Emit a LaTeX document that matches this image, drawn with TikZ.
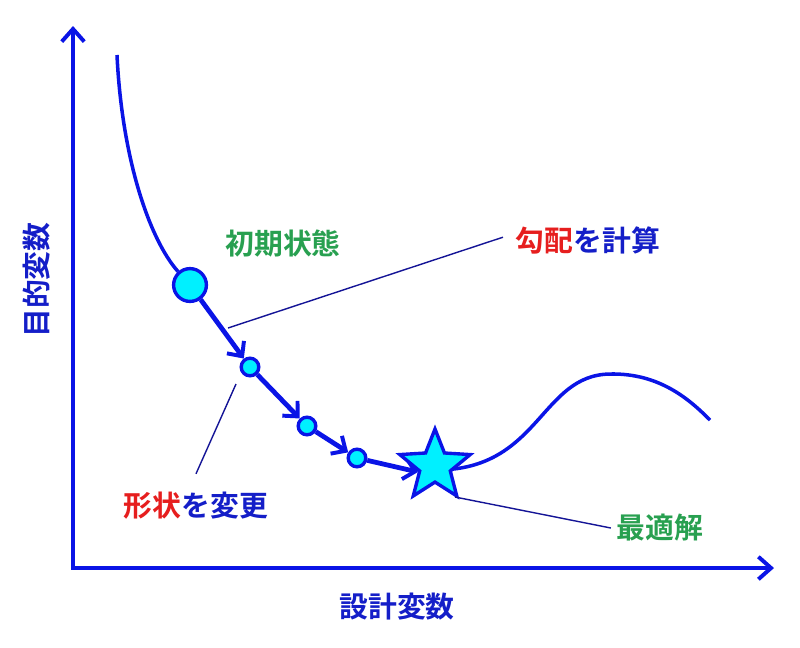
\documentclass[tikz,border=0pt]{standalone}
\usepackage{fontspec}
\newfontfamily\cjk{Noto Sans CJK JP}[BoldFont={Noto Sans CJK JP Bold}]
\usetikzlibrary{shapes.geometric, arrows.meta}
\definecolor{lineblue}{RGB}{10,20,230}
\definecolor{textblue}{RGB}{20,30,200}
\definecolor{textred}{RGB}{230,30,30}
\definecolor{textgreen}{RGB}{40,160,80}
\definecolor{dotfill}{RGB}{0,240,255}
\definecolor{leadblue}{RGB}{20,20,150}

\tikzset{
  axis/.style={line width=2.8pt, lineblue, -{Straight Barb[length=9pt, width=16pt, line width=2.8pt]}},
  curve/.style={line width=2.5pt, lineblue},
  stepline/.style={line width=3.4pt, lineblue, -{Straight Barb[length=8pt, width=15pt, line width=2.8pt]}},
  bigdot/.style={circle, draw=lineblue, line width=2.4pt, fill=dotfill, minimum size=0.82cm, inner sep=0pt},
  smalldot/.style={circle, draw=lineblue, line width=2.4pt, fill=dotfill, minimum size=0.44cm, inner sep=0pt},
  optstar/.style={star, star points=5, star point ratio=2.3, draw=lineblue, line width=2.4pt, fill=dotfill, minimum size=1.85cm, inner sep=0pt},
  leader/.style={line width=1pt, leadblue},
  lbl/.style={font=\cjk\bfseries\fontsize{20.5}{24}\selectfont, inner sep=1pt}
}

\begin{document}
\begin{tikzpicture}[x=0.025cm, y=-0.025cm]
        \useasboundingbox (0,0) rectangle (800,647);
        % Axes
        \coordinate (origin) at (73,568);
        \coordinate (ytop) at (73,26);
        \coordinate (xend) at (774,568);
        \draw[axis] ([yshift=-1.4pt]origin) -- (ytop);
        \draw[axis] ([xshift=-1.4pt]origin) -- (xend);
        \node[lbl, textblue] (xlab) at (397,607) {設計変数};
        \node[lbl, textblue, rotate=90] (ylab) at (37,280) {目的変数};
        % Points on the path
        \node[bigdot] (init) at (190,285) {};
        \node[smalldot] (s1) at (250,367) {};
        \node[smalldot] (s2) at (307,426) {};
        \node[smalldot] (s3) at (357,458) {};
        \coordinate (start) at (117,55);
        \coordinate (tail) at (710,420);
        % Objective curve
        \draw[curve] (start) .. controls (122,160) and (150,240) .. (init);
        \draw[curve] (436,470) .. controls (540,470) and (540,375) .. (610,374)
                     .. controls (660,373) and (690,400) .. (tail);
        % Steps
        \draw[stepline] (init) -- (s1);
        \draw[stepline] (s1) -- (s2);
        \draw[stepline] (s2) -- (s3);
        \draw[stepline] (s3) -- (418,472);
        \node[optstar] (opt) at (435,466) {};
        % Labels
        \node[lbl, textgreen] (initlab) at (283,243) {初期状態};
        \node[lbl] (gradlab) at (588,240) {\textcolor{textred}{勾配}\textcolor{textblue}{を計算}};
        \node[lbl] (shapelab) at (196,506) {\textcolor{textred}{形状}\textcolor{textblue}{を変更}};
        \node[lbl, textgreen] (optlab) at (660,528) {最適解};
        % Leader lines
        \coordinate (gradpt) at (228,328);
        \coordinate (shapept) at (236,384);
        \coordinate (optpt) at (455,497);
        \draw[leader] ([xshift=-8pt, yshift=2pt]gradlab.west) -- (gradpt);
        \draw[leader] ([yshift=12pt]shapelab.north) -- (shapept);
        \draw[leader] ([xshift=-3pt]optlab.west) -- (optpt);
    \end{tikzpicture}
\end{document}
